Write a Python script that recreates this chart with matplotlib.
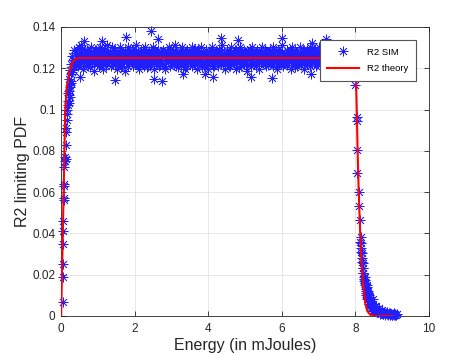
import numpy as np
import matplotlib
matplotlib.use("Agg")
import matplotlib.pyplot as plt

# ---------------- data ----------------
# theory curve
theory_x = [0.0, 0.02, 0.05, 0.08, 0.11, 0.15, 0.20, 0.26, 0.32, 0.40, 0.50,
            8.00, 8.03, 8.06, 8.09, 8.13, 8.17, 8.22, 8.27, 8.32, 8.40, 8.50, 9.00]
theory_y = [0.0, 0.018, 0.044, 0.072, 0.099, 0.110, 0.116, 0.1205, 0.1232, 0.1246, 0.125,
            0.125, 0.105, 0.080, 0.060, 0.040, 0.025, 0.014, 0.006, 0.0025, 0.0006, 0.0, 0.0]

# simulated points: rising edge
rise_x = [0.04, 0.05, 0.05, 0.05, 0.06, 0.06, 0.07, 0.08, 0.08, 0.09, 0.09, 0.10,
          0.11, 0.12, 0.13, 0.13, 0.14, 0.15, 0.16, 0.17, 0.18, 0.19, 0.20, 0.21,
          0.22, 0.23, 0.24, 0.25, 0.26, 0.27, 0.28, 0.30, 0.32, 0.34, 0.18, 0.22,
          0.25, 0.28, 0.30, 0.33]
rise_y = [0.007, 0.019, 0.025, 0.035, 0.041, 0.046, 0.056, 0.057, 0.063, 0.064, 0.072, 0.075,
          0.077, 0.076, 0.083, 0.089, 0.091, 0.095, 0.100, 0.098, 0.102, 0.104, 0.103, 0.107,
          0.109, 0.106, 0.111, 0.112, 0.114, 0.117, 0.113, 0.118, 0.119, 0.121, 0.108, 0.115,
          0.119, 0.122, 0.126, 0.124]

# simulated points: plateau (two interleaved runs, deviations from 0.125)
plateau_start, plateau_end, plateau_level = 0.36, 8.0, 0.125
plateau_unit_a, plateau_unit_b = 0.0013, 0.0005
plateau_dev_a = [
    3, -1, 2, 0, -3, 4, 1, -2, 5, 0, -4, 2, 1, -1, 3, -3, 0, 2, -2, 4,
    -1, 1, -5, 3, 0, 2, -2, 1, -3, 4, 2, -1, 0, -4, 3, 1, -2, 5, -1, 0,
    2, -3, 1, 4, -2, 0, 3, -1, -4, 2, 1, -2, 4, 0, -3, 2, -1, 3, -5, 1,
    0, 4, -2, 1, -1, 3, -3, 2, 0, -2, 5, -1, 1, -4, 2, 0, 3, -2, 1, -3,
    4, -1, 0, 2, -3, 1, -2, 3, -1, 4, -4, 0, 2, -2, 1, 3, -3, 0, 2, -1,
    -2, 3, 1, -4, 0, 2, -1, 4, -3, 1, 0, -2, 3, -1, 5, -3, 2, 0, -2, 1,
    1, -3, 4, 0, -1, 2, -4, 1, 3, -2, 0, 2, -1, 4, -3, 1, -2, 3, 0, -4,
    3, 0, -2, 1, 4, -1, 2, -3, 0, 3, -2, 1, -4, 2, 0, -1, 4, -3, 1, 2,
    -1, 2, 0, -3, 3, 1, -2, 5, -1, 0, 2, -4, 1, 3, -2, 0, -3, 2, 4, -1,
    2, -2, 1, 3, -4, 0, 2, -1, 4, -3, 1, 0, -2, 3, -1, 2, -5, 1, 0, 3,
    -3, 1, 4, -1, 0, 2, -2, 3, 1, -4, 2, 0, -1, 4, -2, 1, 3, -3, 0, 2,
    1, -1, 3, -2, 0, 4, -3, 1, 2, -1, -4, 3, 0, 2, -2, 1, 5, -3, 1, -1,
    0, 3, -2, 2, -1, 1, -4, 4, 0, -2, 3, -1, 2, -3, 1, 0, 4, -2, -1, 3,
    2, -4, 1, 0, 3, -1, 2, -3, 4, 1, -2, 0, 3, -1, -3, 2, 1, -2, 4, 0,
    -2, 1, 3, -3, 0, 2, -1, 4, -2, 1, 0, 3, -4, 2, -1, 1, 3, -2, 0, 5,
    1, -3, 2, 0, -1, 4, -2, 1, 3, -4, 2, -1, 0, 3, -2, 1, -3, 4, 0, -1,
]
plateau_dev_b = [
    5, -7, 2, 8, -3, 0, -6, 4, 9, -1, -8, 3, 6, -4, 1, 7, -2, -9, 4, 0,
    -5, 6, 1, -3, 8, -6, 2, 5, -1, -7, 3, 9, -4, 0, 6, -2, -8, 1, 5, -3,
    7, -1, -5, 3, 0, 8, -7, 2, -3, 6, 4, -6, 1, -9, 5, 2, -2, 7, -4, 0,
    3, -8, 6, -1, 4, -4, 9, -2, 0, 5, -6, 2, 7, -3, -7, 1, 4, -5, 8, -1,
    -2, 5, -9, 1, 7, -3, 3, -6, 6, 0, -1, 8, -5, 2, -4, 5, 1, -7, 3, 6,
    -6, 2, 4, -8, 0, 7, -3, 5, -1, -5, 9, -2, 3, -7, 1, 6, -4, 2, -9, 4,
    8, -4, 1, 5, -6, 2, -2, 7, -8, 3, 0, -5, 6, -1, 4, -3, 9, -6, 1, -2,
    -3, 7, -5, 0, 3, -9, 5, 1, -4, 8, -2, 4, -7, 6, -1, 2, -5, 7, 0, -8,
    6, -2, 3, -6, 9, -1, -4, 4, 1, -7, 5, 0, -3, 8, -5, 3, -1, -8, 6, 2,
    -4, 1, 8, -2, -6, 5, 0, -9, 3, 7, -3, 2, -5, 4, 6, -7, 1, 3, -2, 9,
    2, -6, 0, 7, -4, 3, -8, 6, -1, 4, -5, 1, 8, -3, 0, 5, -6, -2, 7, -4,
    -7, 4, 6, -1, 2, -5, 9, -3, 0, 5, -8, 3, -2, 7, -4, 1, 6, -6, 2, -1,
    4, -3, -7, 5, 1, 8, -2, -5, 7, 0, 3, -9, 2, 6, -4, -1, 5, -7, 4, 1,
    -1, 8, -4, 2, -6, 6, 0, 3, -8, 5, -2, 7, -5, 1, 9, -3, -6, 4, 0, -5,
    7, -5, 2, -2, 5, -7, 4, 1, -3, 8, -6, 0, 6, -4, 3, -8, 2, 5, -1, -3,
    -8, 3, 5, -4, 0, 7, -1, -6, 4, 2, -3, 9, -7, 1, 5, -2, 3, -5, 8, -1,
]

# simulated points: visible outliers
outlier_x = [2.44, 1.47, 2.53, 2.73, 0.63, 1.77, 2.62, 4.34, 6.00, 6.81, 7.20,
             5.15, 5.73, 4.14, 6.80, 0.52, 3.30, 4.80, 1.10, 3.90]
outlier_y = [0.1382, 0.1143, 0.1147, 0.1137, 0.1334, 0.1350, 0.1340, 0.1345, 0.1345, 0.1324, 0.1340,
             0.1156, 0.1155, 0.1156, 0.1170, 0.1158, 0.1170, 0.1335, 0.1330, 0.1172]

# simulated points: falling edge and tail
fall_x = [8.00, 8.03, 8.035, 8.035, 8.05, 8.09, 8.11, 8.125, 8.15, 8.16, 8.18, 8.21, 8.22, 8.26, 8.31]
fall_y = [0.112, 0.0966, 0.0946, 0.0804, 0.0691, 0.0602, 0.0533, 0.0465, 0.0384, 0.0355, 0.0305,
          0.0255, 0.0232, 0.0174, 0.0142]
tail_x = [8.22, 8.24, 8.25, 8.27, 8.28, 8.30, 8.31, 8.33, 8.34, 8.36, 8.37, 8.39, 8.40, 8.42,
          8.43, 8.45, 8.46, 8.48, 8.50, 8.52, 8.54, 8.56, 8.58, 8.60, 8.62, 8.64, 8.66, 8.68,
          8.70, 8.72, 8.75, 8.78, 8.80, 8.83, 8.86, 8.88, 8.90, 8.93, 8.96, 8.98, 9.00, 9.03,
          9.06, 9.08, 9.10, 9.12, 8.29, 8.32, 8.35, 8.38, 8.41, 8.44, 8.47, 8.51, 8.55, 8.59,
          8.63, 8.67, 8.71, 8.74, 8.77, 8.81, 8.85, 8.89, 8.94, 8.99, 9.04, 9.09,
          8.13, 8.14, 8.16, 8.17, 8.19, 8.20, 8.21, 8.23, 8.24, 8.26, 8.27, 8.29, 8.30, 8.32,
          8.33, 8.35, 8.36, 8.38, 8.40, 8.41, 8.43, 8.45, 8.47, 8.49, 8.52, 8.55, 8.58, 8.62,
          8.66, 8.70]
tail_y = [0.021, 0.018, 0.016, 0.019, 0.014, 0.013, 0.015, 0.011, 0.012, 0.009, 0.010, 0.008,
          0.009, 0.006, 0.007, 0.006, 0.005, 0.006, 0.004, 0.005, 0.003, 0.004, 0.003, 0.003,
          0.002, 0.003, 0.002, 0.002, 0.0015, 0.002, 0.001, 0.0015, 0.001, 0.0012, 0.0008, 0.001,
          0.0012, 0.0006, 0.001, 0.0008, 0.0005, 0.001, 0.0007, 0.0009, 0.0004, 0.0008, 0.010,
          0.008, 0.011, 0.006, 0.007, 0.004, 0.008, 0.003, 0.005, 0.002, 0.004, 0.001, 0.003,
          0.001, 0.002, 0.0005, 0.002, 0.0003, 0.0015, 0.0004, 0.0012, 0.0003,
          0.036, 0.031, 0.033, 0.028, 0.026, 0.023, 0.021, 0.019, 0.017, 0.015, 0.016, 0.012,
          0.011, 0.009, 0.010, 0.008, 0.006, 0.007, 0.005, 0.006, 0.004, 0.005, 0.003, 0.004,
          0.0025, 0.003, 0.002, 0.0018, 0.0012, 0.0014]

x_ticks = [0, 2, 4, 6, 8, 10]
y_ticks = [0, 0.02, 0.04, 0.06, 0.08, 0.10, 0.12, 0.14]
y_tick_labels = ["0", "0.02", "0.04", "0.06", "0.08", "0.1", "0.12", "0.14"]

# ---------------- assemble ----------------
plateau_xa = np.linspace(plateau_start, plateau_end, len(plateau_dev_a))
plateau_ya = plateau_level + plateau_unit_a * np.array(plateau_dev_a)
half = (plateau_end - plateau_start) / (len(plateau_dev_b) - 1) / 2
plateau_xb = np.linspace(plateau_start + half, plateau_end - half, len(plateau_dev_b))
plateau_yb = plateau_level + plateau_unit_b * np.array(plateau_dev_b)

sim_x = np.concatenate([rise_x, plateau_xa, plateau_xb, outlier_x, fall_x, tail_x])
sim_y = np.concatenate([rise_y, plateau_ya, plateau_yb, outlier_y, fall_y, tail_y])

plt.rcParams['font.family'] = ['Liberation Sans', 'DejaVu Sans']

fig = plt.figure(figsize=(4.74, 3.55), dpi=100)
fig.patch.set_facecolor('white')
ax = fig.add_axes([0.129, 0.110, 0.776, 0.814])

ax.plot(sim_x, sim_y, linestyle='none', marker=(8, 2, 0), markersize=7,
        markeredgewidth=0.55, color=(0.12, 0.12, 1.0), label='R2 SIM', clip_on=False, zorder=3)
ax.plot(theory_x, theory_y, color='red', linewidth=1.5, label='R2 theory', zorder=4)

ax.set_xlim(0, 10)
ax.set_ylim(0, 0.14)
ax.set_xticks(x_ticks)
ax.set_yticks(y_ticks)
ax.set_yticklabels(y_tick_labels)

ax.grid(True, color='#e3e3e3', linewidth=0.6)
ax.set_axisbelow(True)
for s in ax.spines.values():
    s.set_color('#262626')
    s.set_linewidth(0.6)
ax.tick_params(direction='in', top=True, right=True, length=3.5, width=0.6,
               colors='#262626', labelsize=8.5)
ax.tick_params(axis='x', pad=5)
ax.tick_params(axis='y', pad=4)

ax.set_xlabel('Energy (in mJoules)', fontsize=11.5, color='#262626', labelpad=2)
ax.set_ylabel('R2 limiting PDF', fontsize=11.5, color='#262626', labelpad=2)

leg = ax.legend(loc='upper right', bbox_to_anchor=(0.965, 0.955), borderaxespad=0,
                fancybox=False, framealpha=1, edgecolor='#555555', fontsize=6.8,
                handlelength=3.4, borderpad=0.8, labelspacing=0.8, handletextpad=0.85)
leg.get_frame().set_linewidth(0.8)
leg.set_zorder(10)

fig.savefig('out.png', dpi=100)
